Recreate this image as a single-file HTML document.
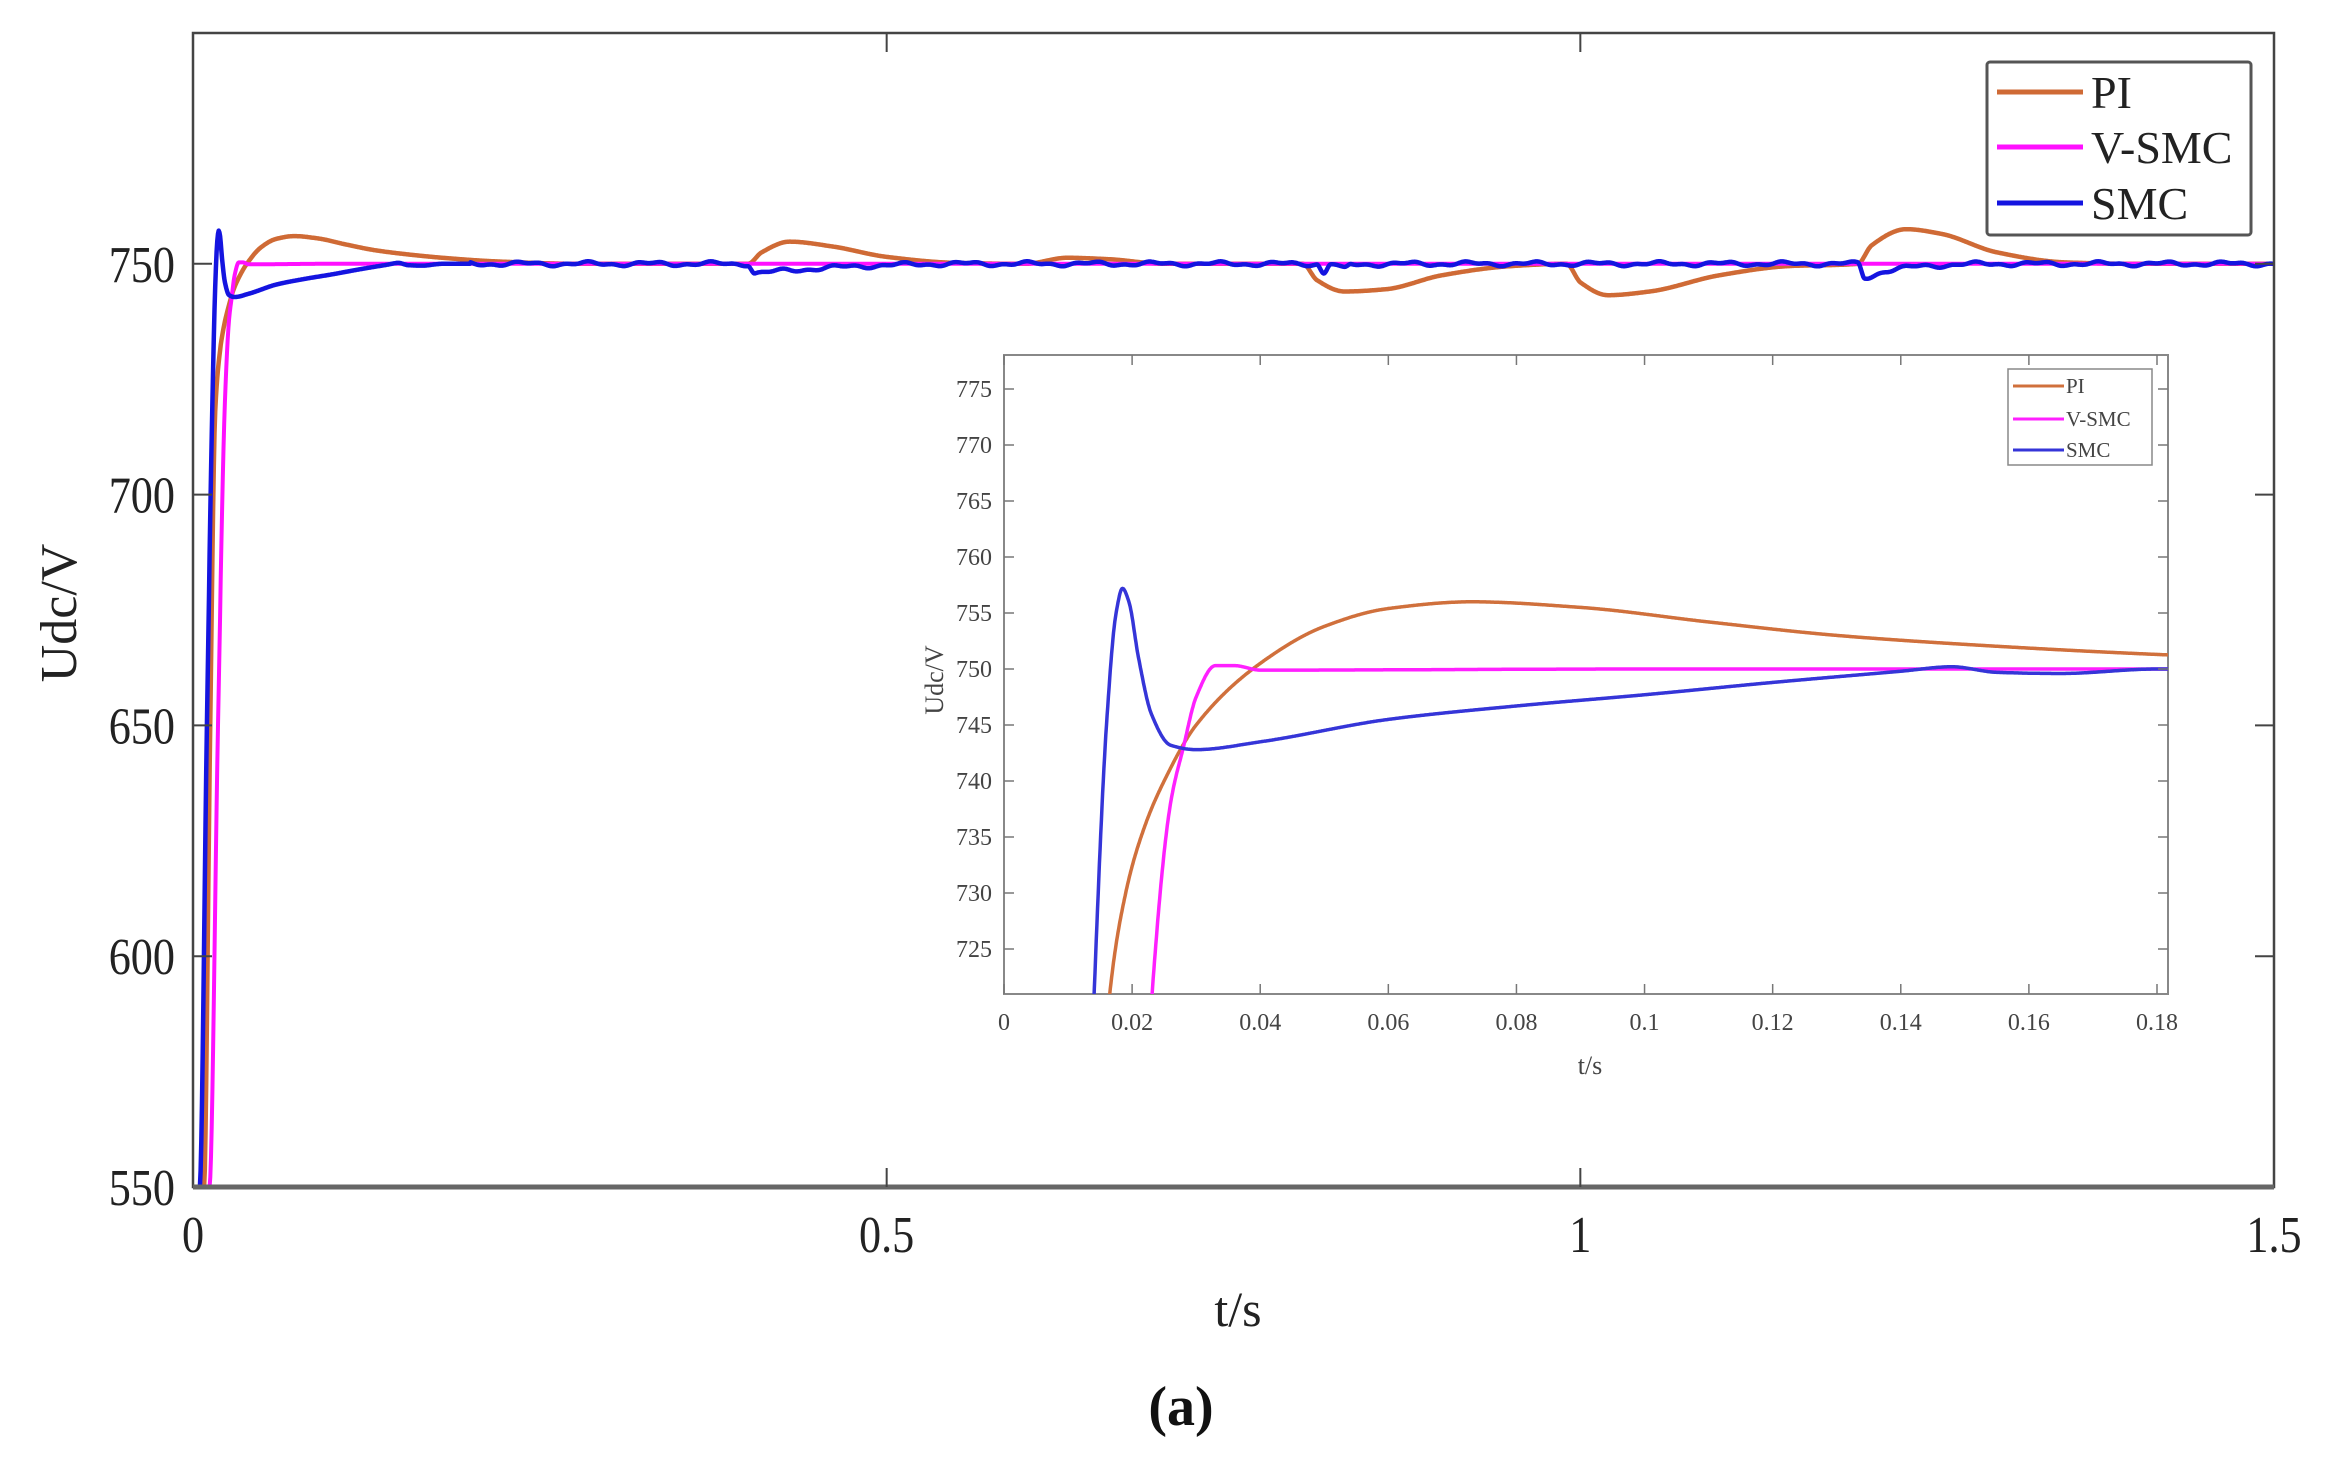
<!DOCTYPE html>
<html><head><meta charset="utf-8"><style>
html,body{margin:0;padding:0;background:#fff;width:2333px;height:1458px;overflow:hidden;}
svg{display:block;}
text{font-family:"Liberation Serif",serif;}
</style></head><body>
<svg id="s" width="2333" height="1458" viewBox="0 0 2333 1458" xmlns="http://www.w3.org/2000/svg">
<defs>
<clipPath id="cm"><rect x="193" y="33" width="2081" height="1154"/></clipPath>
<clipPath id="ci"><rect x="1004" y="355" width="1164" height="639"/></clipPath>
</defs>
<g id="main"></g>
<g id="inset"></g>
</svg>
<script>
var NS="http://www.w3.org/2000/svg";
function el(p,tag,a,txt){var e=document.createElementNS(NS,tag);for(var k in a)e.setAttribute(k,a[k]);if(txt!==undefined)e.textContent=txt;p.appendChild(e);return e;}
// monotone cubic interpolation
function mono(pts){var n=pts.length,xs=pts.map(function(p){return p[0];}),ys=pts.map(function(p){return p[1];});
 var d=[],m=[];for(var i=0;i<n-1;i++)d.push((ys[i+1]-ys[i])/(xs[i+1]-xs[i]));
 m[0]=d[0];m[n-1]=d[n-2];for(i=1;i<n-1;i++){if(d[i-1]*d[i]<=0)m[i]=0;else{var h0=xs[i]-xs[i-1],h1=xs[i+1]-xs[i];m[i]=3*(h0+h1)/((2*h1+h0)/d[i-1]+(h1+2*h0)/d[i]);}}
 return function(x){if(x<=xs[0])return ys[0];if(x>=xs[n-1])return ys[n-1];var lo=0,hi=n-1;while(hi-lo>1){var md=(lo+hi)>>1;if(xs[md]>x)hi=md;else lo=md;}
  var h=xs[hi]-xs[lo],t=(x-xs[lo])/h,t2=t*t,t3=t2*t;
  return (2*t3-3*t2+1)*ys[lo]+(t3-2*t2+t)*h*m[lo]+(-2*t3+3*t2)*ys[hi]+(t3-t2)*h*m[hi];};}
var PI=[[0,540],[0.008,550],[0.012,640],[0.016,718],[0.019,730],[0.022,736],[0.025,740],[0.03,745],[0.04,750.5],[0.05,753.8],[0.06,755.4],[0.073,756],[0.09,755.5],[0.11,754.2],[0.13,753],[0.15,752.2],[0.18,751.3],[0.22,750.5],[0.28,750],[0.4,750],[0.41,752.5],[0.43,754.8],[0.46,753.8],[0.5,751.5],[0.55,750.2],[0.6,750],[0.63,751.3],[0.66,751],[0.7,750],[0.8,750],[0.81,746.5],[0.83,744],[0.86,744.5],[0.9,747.5],[0.95,749.5],[0.99,750],[1.0,746],[1.02,743.2],[1.05,744],[1.1,747.5],[1.15,749.5],[1.2,750],[1.21,754],[1.235,757.5],[1.26,756.5],[1.3,752.5],[1.35,750.3],[1.4,750],[1.5,750]];
var VS=[[0,540],[0.012,550],[0.018,650],[0.023,720],[0.026,738],[0.028,743],[0.03,747.5],[0.033,750.3],[0.036,750.3],[0.04,749.9],[0.1,750],[0.5,750],[1.5,750]];
var SM=[[0,540],[0.005,550],[0.01,650],[0.014,720],[0.016,745],[0.0175,755],[0.0185,757.2],[0.0195,756],[0.021,751],[0.023,746],[0.026,743.2],[0.03,742.8],[0.04,743.5],[0.06,745.5],[0.08,746.7],[0.1,747.7],[0.12,748.8],[0.14,749.8],[0.148,750.2],[0.155,749.7],[0.165,749.6],[0.18,750],[0.2,750],[0.4,750],[0.405,748],[0.43,748.6],[0.5,749.7],[0.55,750],[0.81,750],[0.815,748],[0.82,750],[0.83,748.8],[0.835,749.8],[0.9,750],[1.2,750],[1.205,747],[1.22,748.5],[1.26,749.7],[1.3,750],[1.5,750]];
var M=document.getElementById("main");
var mx=function(t){return 193+t*(2274-193)/1.5;}, my=function(v){return 1187-(v-550)*(1187-33)/250;};
function poly(g,pts,fx,fy,col,w,clip,t1,step,rip){var f=mono(pts),a=[];
 for(var t=0;t<=t1+1e-9;t+=step){var v=f(t);if(rip&&t>0.2)v+=0.35*Math.sin(t*2*Math.PI*22)+0.2*Math.sin(t*2*Math.PI*57);a.push(fx(t).toFixed(1)+","+fy(v).toFixed(1));}
 el(g,"polyline",{points:a.join(" "),fill:"none",stroke:col,"stroke-width":w,"stroke-linejoin":"round","clip-path":"url(#"+clip+")"});}
poly(M,PI,mx,my,"#cf6a35",4.5,"cm",1.5,0.0005);
poly(M,VS,mx,my,"#ff10ff",4,"cm",1.5,0.0005);
poly(M,SM,mx,my,"#1414e0",4.5,"cm",1.5,0.0005,true);
el(M,"rect",{x:193,y:33,width:2081,height:1154,fill:"none",stroke:"#444","stroke-width":2.5});
el(M,"line",{x1:193,y1:1187,x2:2274,y2:1187,stroke:"#666","stroke-width":5});
[0.5,1].forEach(function(t){var x=mx(t);el(M,"line",{x1:x,y1:1187,x2:x,y2:1168,stroke:"#444","stroke-width":2});el(M,"line",{x1:x,y1:33,x2:x,y2:52,stroke:"#444","stroke-width":2});});
[600,650,700,750].forEach(function(v){var y=my(v);el(M,"line",{x1:193,y1:y,x2:212,y2:y,stroke:"#444","stroke-width":2});el(M,"line",{x1:2274,y1:y,x2:2255,y2:y,stroke:"#444","stroke-width":2});});
[550,600,650,700,750].forEach(function(v){el(M,"text",{x:175,y:my(v)+18,"font-size":52,"text-anchor":"end",fill:"#222",transform:"translate(175,0) scale(0.85,1) translate(-175,0)"},""+v);});
[[0,"0"],[0.5,"0.5"],[1,"1"],[1.5,"1.5"]].forEach(function(a){var x=mx(a[0]);el(M,"text",{x:x,y:1252,"font-size":52,"text-anchor":"middle",fill:"#222",transform:"translate("+x+",0) scale(0.85,1) translate("+(-x)+",0)"},a[1]);});
el(M,"text",{x:1238,y:1326,"font-size":50,"text-anchor":"middle",fill:"#222"},"t/s");
el(M,"text",{x:0,y:0,"font-size":52,"text-anchor":"middle",fill:"#222",transform:"translate(76,613) rotate(-90)"},"Udc/V");
el(M,"text",{x:1181,y:1425,"font-size":56,"font-weight":"bold","text-anchor":"middle",fill:"#111"},"(a)");
el(M,"rect",{x:1987,y:62,width:264,height:173,fill:"#fff",stroke:"#555","stroke-width":3,rx:3});
[["PI","#cf6a35",92],["V-SMC","#ff10ff",147],["SMC","#1414e0",203]].forEach(function(a){el(M,"line",{x1:1997,y1:a[2],x2:2083,y2:a[2],stroke:a[1],"stroke-width":5});el(M,"text",{x:2091,y:a[2]+16,"font-size":46,fill:"#222"},a[0]);});
var I=document.getElementById("inset");
var ix=function(t){return 1004+t*(2157-1004)/0.18;}, iy=function(v){return 949-(v-725)*(949-389)/50;};
el(I,"rect",{x:1004,y:355,width:1164,height:639,fill:"#fff",stroke:"#888","stroke-width":2});
poly(I,PI,ix,iy,"#d0703c",3.5,"ci",0.19,0.0001);
poly(I,VS,ix,iy,"#ff20ff",3.5,"ci",0.19,0.0001);
poly(I,SM,ix,iy,"#3535d8",3.5,"ci",0.19,0.0001);
for(var k=0;k<=9;k++){var t=k*0.02,x=ix(t);el(I,"line",{x1:x,y1:994,x2:x,y2:984,stroke:"#777","stroke-width":1.5});el(I,"line",{x1:x,y1:355,x2:x,y2:365,stroke:"#777","stroke-width":1.5});
 el(I,"text",{x:x,y:1030,"font-size":24,"text-anchor":"middle",fill:"#444"},k==0?"0":(k==5?"0.1":t.toFixed(2)));}
for(var v=725;v<=775;v+=5){var y=iy(v);el(I,"line",{x1:1004,y1:y,x2:1014,y2:y,stroke:"#777","stroke-width":1.5});el(I,"line",{x1:2168,y1:y,x2:2158,y2:y,stroke:"#777","stroke-width":1.5});
 el(I,"text",{x:992,y:y+8,"font-size":24,"text-anchor":"end",fill:"#444"},""+v);}
el(I,"text",{x:1590,y:1074,"font-size":26,"text-anchor":"middle",fill:"#444"},"t/s");
el(I,"text",{x:0,y:0,"font-size":26,"text-anchor":"middle",fill:"#444",transform:"translate(943,680) rotate(-90)"},"Udc/V");
el(I,"rect",{x:2008,y:369,width:144,height:96,fill:"#fff",stroke:"#888","stroke-width":1.5});
[["PI","#d0703c",386],["V-SMC","#ff20ff",419],["SMC","#3535d8",450]].forEach(function(a){el(I,"line",{x1:2013,y1:a[2],x2:2064,y2:a[2],stroke:a[1],"stroke-width":3});el(I,"text",{x:2066,y:a[2]+7,"font-size":21,fill:"#444"},a[0]);});
</script>
</body></html>
